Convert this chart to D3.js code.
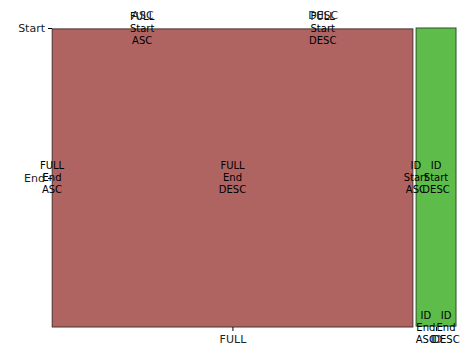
<html>
<head>
<script src="https://d3js.org/d3.v7.min.js"></script>
<style>
  body { margin: 0; background: #fff; }
  text { font-family: "DejaVu Sans", sans-serif; }
  .tile { stroke-width: 1px; }
  .lbl { font-size: 10px; fill: #000; }
  .tick text { font-size: 11px; fill: #222; }
</style>
</head>
<body>
<svg id="chart" width="474" height="353"></svg>
<script>
// factors
const types = ["FULL", "ID"];
const positions = ["Start", "End"];
const orders = ["ASC", "DESC"];
// counts[type][position][order]
const fullCounts = [[0, 0], [0, 45]];
const idCounts = [[0, 5], [0, 0]];
const counts = [fullCounts, idCounts];
const fills = ["#b06462", "#5ebc4a"];
const edges = ["#4a3030", "#2a5222"];

const svg = d3.select("#chart");
const x = d3.scaleLinear().domain([0, 1]).range([52, 456]);
const y = d3.scaleLinear().domain([0, 1]).range([28, 327]);

// split an interval by values, equal split when everything is zero
function split(a, b, vals, gap) {
  const tot = d3.sum(vals);
  const props = tot === 0 ? vals.map(() => 1 / vals.length) : vals.map(v => v / tot);
  const space = (b - a) - gap * (vals.length - 1);
  let pos = a;
  return props.map(p => {
    const seg = [pos, pos + space * p];
    pos += space * p + gap;
    return seg;
  });
}

const tiles = [];
const typeSeg = split(0, 1, counts.map(c => d3.sum(c.flat())), 0.0075);
types.forEach((t, i) => {
  const posSeg = split(0, 1, counts[i].map(r => d3.sum(r)), 0.003);
  positions.forEach((p, j) => {
    const ordSeg = split(typeSeg[i][0], typeSeg[i][1], counts[i][j], 0.0005);
    orders.forEach((o, k) => {
      tiles.push({t, p, o, i, x0: ordSeg[k][0], x1: ordSeg[k][1],
                  y0: posSeg[j][0], y1: posSeg[j][1], n: counts[i][j][k]});
    });
  });
});

// filled tiles
tiles.filter(d => d.n > 0).forEach(d => {
  svg.append("rect").attr("class", "tile")
    .attr("x", x(d.x0)).attr("y", y(d.y0))
    .attr("width", x(d.x1) - x(d.x0)).attr("height", y(d.y1) - y(d.y0))
    .attr("fill", fills[d.i]).attr("stroke", edges[d.i]);
});

// tile labels
tiles.forEach(d => {
  const cx = x((d.x0 + d.x1) / 2), cy = y((d.y0 + d.y1) / 2);
  const g = svg.append("text").attr("class", "lbl").attr("text-anchor", "middle");
  [d.t, d.p, d.o].forEach((s, m) => {
    g.append("tspan").attr("x", cx).attr("y", cy + (m - 1) * 12 + 3.5).text(s);
  });
});

// axes
const bottomScale = d3.scaleOrdinal().domain(types)
  .range(types.map((t, i) => x((typeSeg[i][0] + typeSeg[i][1]) / 2)));
svg.append("g").attr("transform", "translate(0,327)")
  .call(d3.axisBottom(bottomScale).tickSize(4).tickPadding(4))
  .call(g => g.select(".domain").remove());

const firstPos = split(0, 1, fullCounts.map(r => d3.sum(r)), 0.003);
const leftScale = d3.scaleOrdinal().domain(positions)
  .range(positions.map((p, j) => y((firstPos[j][0] + firstPos[j][1]) / 2)));
svg.append("g").attr("transform", "translate(52,0)")
  .call(d3.axisLeft(leftScale).tickSize(4).tickPadding(3))
  .call(g => g.select(".domain").remove());

const firstOrd = split(typeSeg[0][0], typeSeg[0][1], fullCounts[0], 0.0005);
const topScale = d3.scaleOrdinal().domain(orders)
  .range(orders.map((o, k) => x((firstOrd[k][0] + firstOrd[k][1]) / 2)));
svg.append("g").attr("transform", "translate(0,28)")
  .call(d3.axisTop(topScale).tickSize(0).tickPadding(9))
  .call(g => g.select(".domain").remove());
</script>
</body>
</html>
